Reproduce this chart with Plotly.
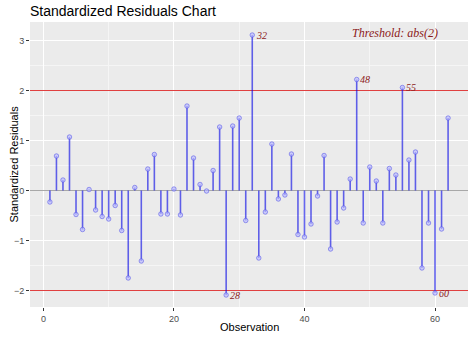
import plotly.graph_objects as go

obs = list(range(1, 63))
resid = [-0.23, 0.69, 0.21, 1.07, -0.48, -0.78, 0.02, -0.39, -0.52, -0.57,
         -0.30, -0.80, -1.75, 0.06, -1.41, 0.43, 0.72, -0.47, -0.47, 0.03,
         -0.49, 1.69, 0.65, 0.12, -0.01, 0.40, 1.27, -2.09, 1.29, 1.45,
         -0.60, 3.11, -1.35, -0.43, 0.93, -0.17, -0.09, 0.73, -0.88, -0.93,
         -0.67, -0.11, 0.70, -1.17, -0.63, -0.35, 0.23, 2.22, -0.65, 0.47,
         0.19, -0.65, 0.44, 0.31, 2.06, 0.61, 0.77, -1.55, -0.65, -2.05,
         -0.77, 1.45]
threshold = 2
x_ticks = [0, 20, 40, 60]
y_ticks = [-2, -1, 0, 1, 2, 3]
title = "Standardized Residuals Chart"
label_note = "Threshold: abs(2)"

x_range = [-2.05, 65.05]
y_range = [-2.33, 3.37]

seg_x, seg_y = [], []
for o, r in zip(obs, resid):
    seg_x += [o, o, None]
    seg_y += [0, r, None]

fig = go.Figure()
fig.add_trace(go.Scatter(x=x_range, y=[0, 0], mode="lines",
                         line=dict(color="#A8A8A8", width=1),
                         hoverinfo="skip", showlegend=False))
fig.add_trace(go.Scatter(x=x_range + [None] + x_range,
                         y=[threshold, threshold, None, -threshold, -threshold],
                         mode="lines", line=dict(color="#E04040", width=1),
                         hoverinfo="skip", showlegend=False))
fig.add_trace(go.Scatter(x=seg_x, y=seg_y, mode="lines",
                         line=dict(color="rgba(0,0,230,0.6)", width=1.6),
                         hoverinfo="skip", showlegend=False))
fig.add_trace(go.Scatter(x=obs, y=resid, mode="markers",
                         marker=dict(size=4.5, color="rgba(190,190,255,0.7)",
                                     line=dict(color="rgba(80,80,230,0.6)", width=0.9)),
                         showlegend=False))

for o, r in zip(obs, resid):
    if abs(r) > threshold:
        fig.add_annotation(x=o, y=r, text=str(o), showarrow=False,
                           xanchor="left", yanchor="middle", xshift=1.5,
                           font=dict(family="Liberation Serif", size=10,
                                     color="#8B1A1A", style="italic"))

fig.add_annotation(x=53.8, y=3.16, text=label_note, showarrow=False,
                   xanchor="center", yanchor="middle",
                   font=dict(family="Liberation Serif", size=12,
                             color="#8B1A1A", style="italic"))

fig.add_annotation(xref="paper", yref="paper", x=(13 - 30) / 438, y=0.5,
                   text="Standardized Residuals", textangle=-90, showarrow=False,
                   xanchor="center", yanchor="middle",
                   font=dict(size=11, color="black"))
fig.add_annotation(xref="paper", yref="paper", x=0.5, y=-(327 - 307) / 285,
                   text="Observation", showarrow=False,
                   xanchor="center", yanchor="middle",
                   font=dict(size=11, color="black"))

fig.update_layout(
    width=474, height=338,
    margin=dict(l=30, r=6, t=22, b=31),
    paper_bgcolor="white", plot_bgcolor="#EBEBEB",
    font=dict(family="Liberation Sans", color="#1A1A1A"),
    title=dict(text=title, x=30/474, xanchor="left", y=1-11/338, yanchor="middle",
               font=dict(size=14, color="black")),
)
fig.update_xaxes(range=x_range, tickvals=x_ticks, ticks="outside", automargin=False,
                 ticklen=3, tickcolor="#333333", tickfont=dict(size=9, color="#4D4D4D"),
                 showgrid=True, gridcolor="white", gridwidth=1,
                 minor=dict(tickvals=[10, 30, 50], showgrid=True, gridcolor="#F5F5F5", gridwidth=0.6),
                 zeroline=False, showline=False)
fig.update_yaxes(range=y_range, tickvals=y_ticks, ticks="outside", automargin=False,
                 ticklen=3, tickcolor="#333333", tickfont=dict(size=9, color="#4D4D4D"),
                 showgrid=True, gridcolor="white", gridwidth=1,
                 minor=dict(tickvals=[-1.5, -0.5, 0.5, 1.5, 2.5], showgrid=True, gridcolor="#F5F5F5", gridwidth=0.6),
                 zeroline=False, showline=False)

fig.write_html("out.html")
